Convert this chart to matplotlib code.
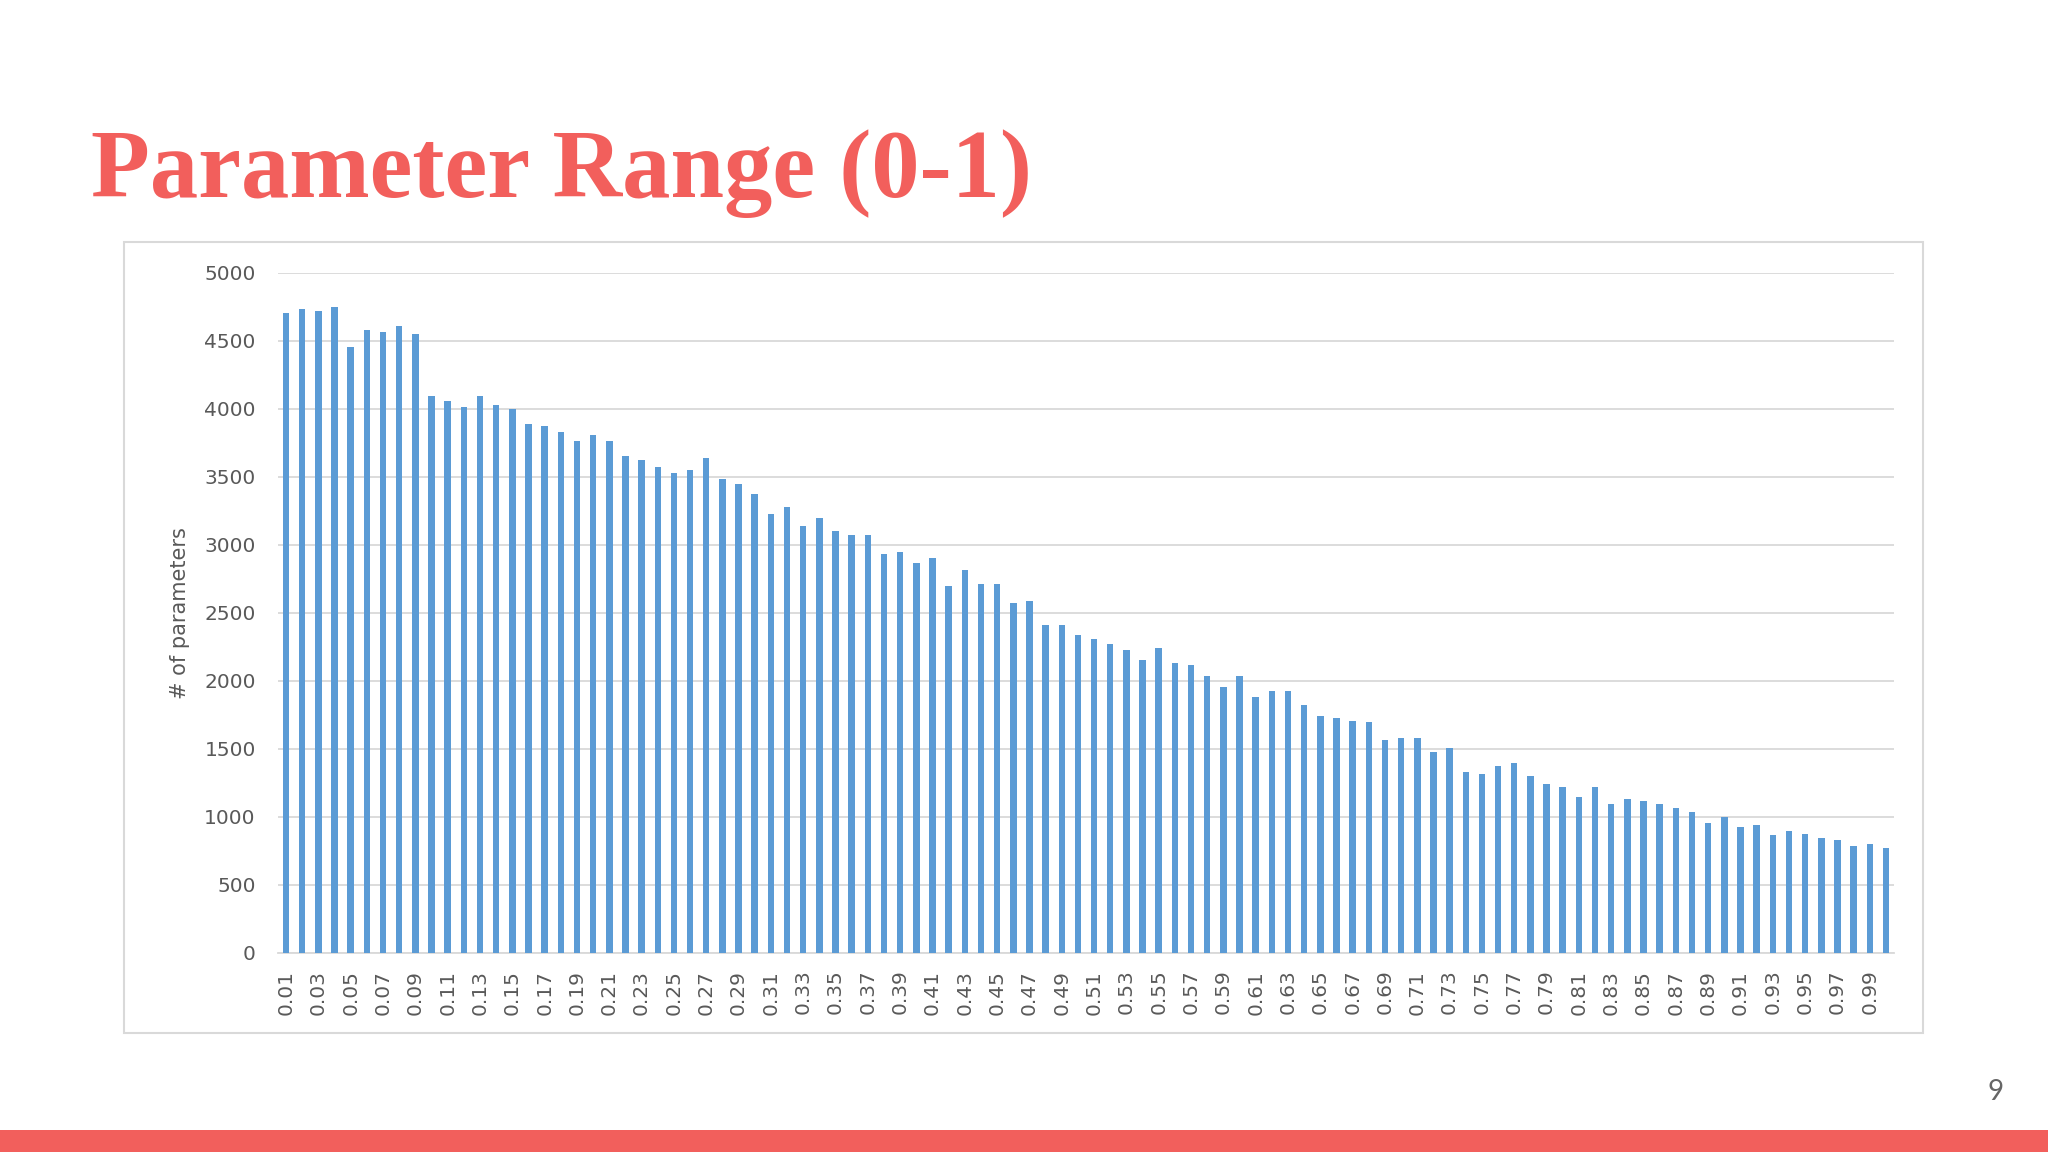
import matplotlib
matplotlib.use("Agg")
import matplotlib.pyplot as plt
from matplotlib.patches import Rectangle
import numpy as np

categories = [f"{i/100:.2f}" for i in range(1, 101)]
counts = [
    4706, 4733, 4720, 4753, 4456, 4581, 4564, 4608, 4551, 4095,
    4061, 4017, 4095, 4028, 4000, 3892, 3876, 3828, 3764, 3808,
    3764, 3656, 3622, 3575, 3528, 3548, 3639, 3487, 3450, 3373,
    3231, 3278, 3140, 3200, 3106, 3076, 3076, 2937, 2947, 2870,
    2903, 2697, 2819, 2711, 2711, 2572, 2586, 2414, 2414, 2336,
    2306, 2275, 2228, 2151, 2242, 2130, 2117, 2039, 1958, 2039,
    1880, 1928, 1928, 1820, 1739, 1725, 1708, 1695, 1566, 1583,
    1583, 1475, 1506, 1334, 1317, 1377, 1394, 1300, 1239, 1222,
    1144, 1222, 1097, 1131, 1114, 1097, 1067, 1036, 959, 1003,
    925, 942, 864, 895, 878, 847, 834, 787, 800, 770,
]
yticks = [0, 500, 1000, 1500, 2000, 2500, 3000, 3500, 4000, 4500, 5000]
title = "Parameter Range (0-1)"
ylabel = "# of parameters"
page_number = "9"

accent = "#F25F5C"
grid_c = "#D9D9D9"
text_c = "#595959"
bar_c = "#5B9BD5"

fig = plt.figure(figsize=(20.48, 11.52), dpi=100)
fig.patch.set_facecolor("white")

# chart frame
fig.patches.append(Rectangle((124 / 2048, 1 - 1033 / 1152), (1923 - 124) / 2048,
                             (1033 - 242) / 1152, transform=fig.transFigure,
                             fill=False, edgecolor=grid_c, linewidth=1.5))
# bottom band
fig.patches.append(Rectangle((0, 0), 1, 22 / 1152, transform=fig.transFigure,
                             facecolor=accent, edgecolor="none"))

fig.text(91 / 2048, 1 - 197 / 1152, title, family="Liberation Serif",
         fontweight="bold", fontsize=69.5, color=accent, ha="left", va="baseline")
fig.text(1996 / 2048, 1 - 1092 / 1152, page_number, fontsize=20, color="#666666",
         ha="center", va="center", family="Lato")

ax = fig.add_axes([278 / 2048, 1 - 953 / 1152, (1894 - 278) / 2048, (953 - 273) / 1152])
x = np.arange(len(categories))
ax.bar(x, counts, width=0.4, color=bar_c, zorder=3)
ax.set_xlim(-0.5, len(categories) - 0.5)
ax.set_ylim(0, 5000)
ax.set_yticks(yticks)
ax.set_yticklabels([str(v) for v in yticks])
ax.set_xticks(x[::2])
ax.set_xticklabels(categories[::2], rotation=90)
ax.tick_params(axis="both", length=0, colors=text_c, labelsize=14.5)
ax.tick_params(axis="y", pad=16)
ax.tick_params(axis="x", pad=12)
ax.yaxis.grid(True, color=grid_c, linewidth=1.3, zorder=0)
ax.set_axisbelow(True)
for s in ["top", "right", "left"]:
    ax.spines[s].set_visible(False)
ax.spines["bottom"].set_color(grid_c)
ax.spines["bottom"].set_linewidth(1.3)
ax.set_ylabel(ylabel, color=text_c, fontsize=15, labelpad=10)
ax.set_facecolor("white")

fig.savefig("out.png", dpi=100, facecolor="white")
